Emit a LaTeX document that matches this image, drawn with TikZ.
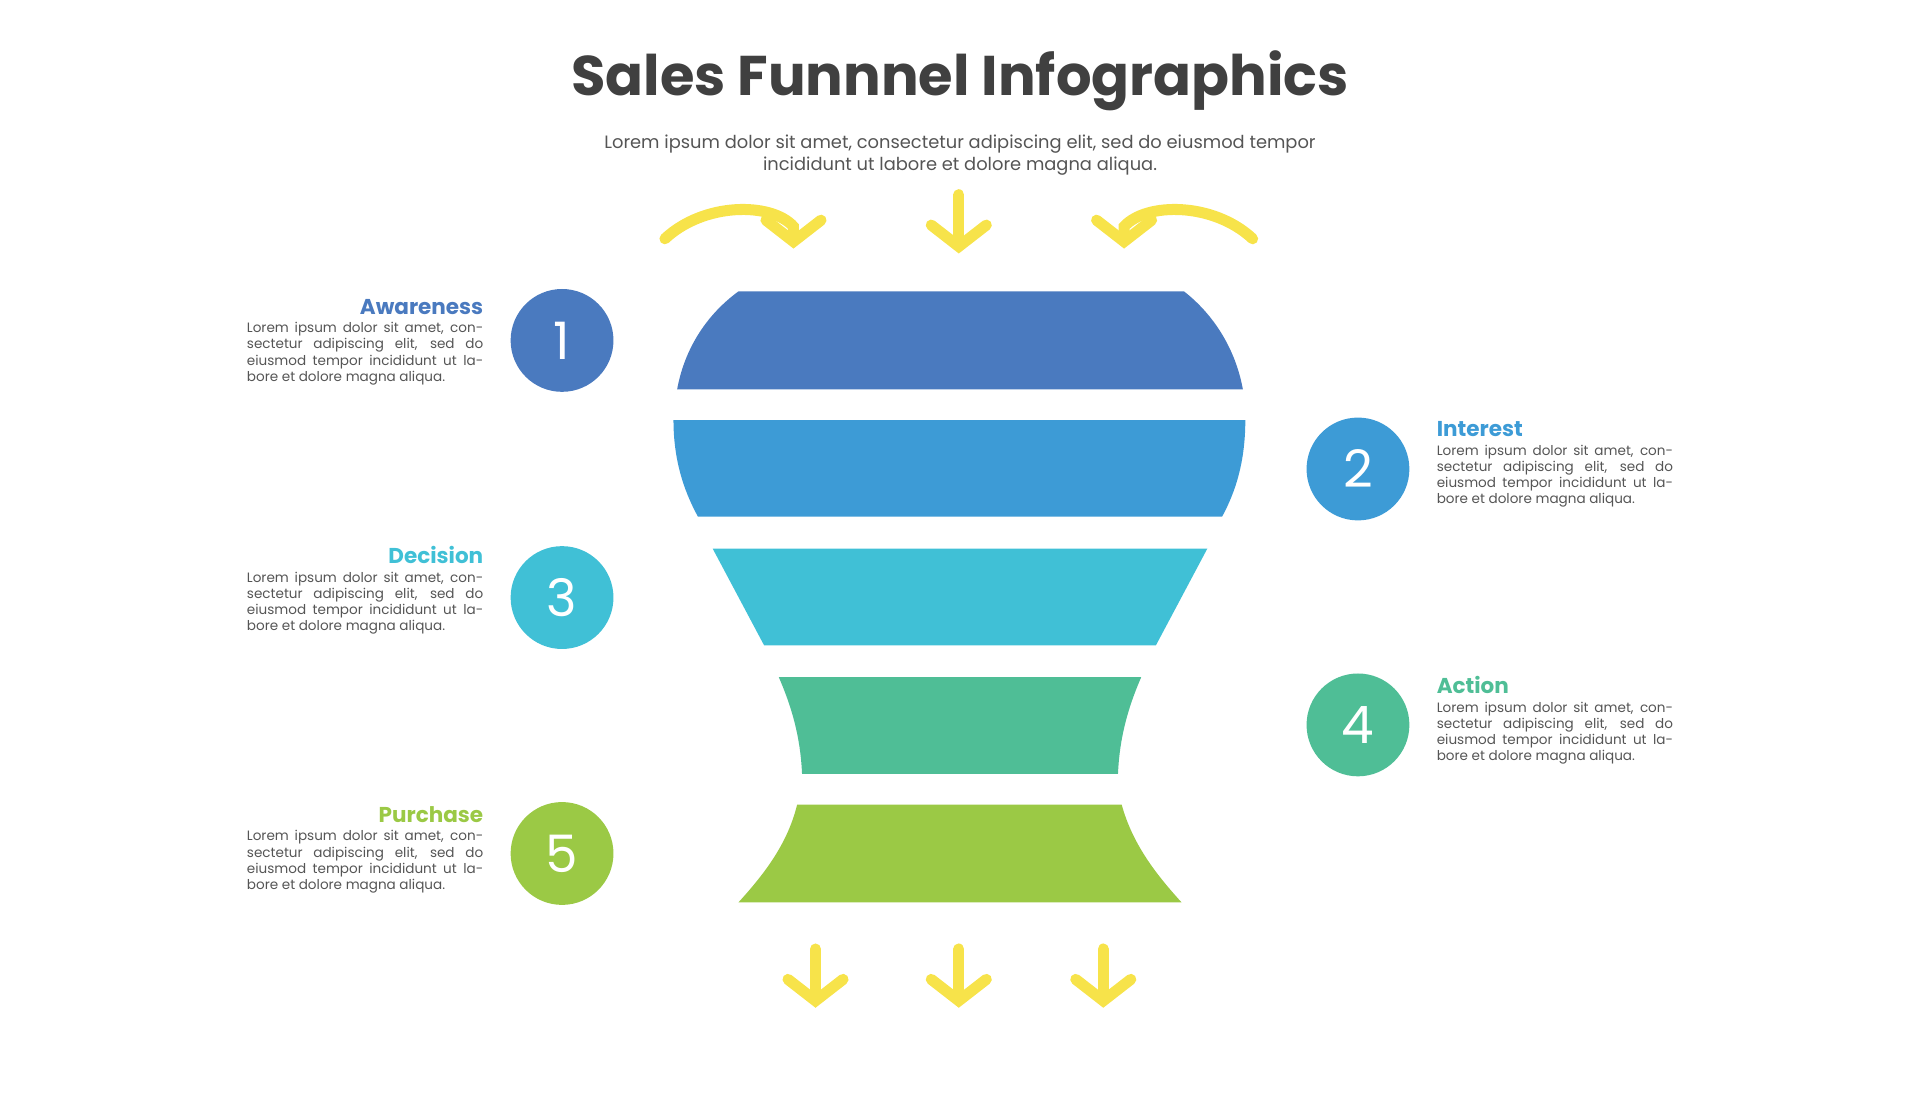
\documentclass[tikz,border=0pt]{standalone}
\usepackage{fontspec}
\setmainfont{Poppins}
\usetikzlibrary{arrows.meta, positioning}
\definecolor{cOne}{HTML}{4A7ABF}
\definecolor{cTwo}{HTML}{3D9BD6}
\definecolor{cThree}{HTML}{40C0D6}
\definecolor{cFour}{HTML}{4FBE96}
\definecolor{cFive}{HTML}{9BC945}
\definecolor{cArrow}{HTML}{F7E34A}
\definecolor{cText}{HTML}{555555}
\newcommand{\lorem}{Lorem ipsum dolor sit amet, consectetur adipiscing elit, sed do eiusmod tempor incididunt ut labore et dolore magna aliqua.}

\begin{document}
\begin{tikzpicture}[
        x=0.02cm, y=-0.02cm,
        numcirc/.style={circle, minimum size=1.68cm, inner sep=0pt, text=white, font=\fontsize{24}{24}\selectfont},
        headl/.style={anchor=south east, inner sep=0pt, font=\bfseries\fontsize{10}{10}\selectfont},
        headr/.style={anchor=south west, inner sep=0pt, font=\bfseries\fontsize{10}{10}\selectfont},
        bodyl/.style={anchor=north east, inner sep=0pt, text width=3.86cm, align=justify, text=cText, font=\fontsize{6.3}{7.5}\selectfont},
        bodyr/.style={anchor=north west, inner sep=0pt, text width=3.86cm, align=justify, text=cText, font=\fontsize{6.3}{7.5}\selectfont},
        flow/.style={draw=cArrow, line width=0.18cm, line cap=round, -{Straight Barb[length=0.35cm, width=0.9cm, line cap=round]}}
    ]
        \useasboundingbox (0,0) rectangle (1568,896);

        % Title
        \node (title) at (784,66) {\bfseries\fontsize{26}{26}\selectfont\color{black!75}Sales Funnnel Infographics};
        \node (sub) [below=0.15cm of title, align=center, text=cText, font=\fontsize{8.3}{10}\selectfont] {Lorem ipsum dolor sit amet, consectetur adipiscing elit, sed do eiusmod tempor\\incididunt ut labore et dolore magna aliqua.};

        % Funnel layers
        \fill[cOne] (603,238) -- (967,238) .. controls (995,260) and (1010,290) .. (1015,318) -- (553,318) .. controls (558,290) and (573,260) .. (603,238) -- cycle;
        \fill[cTwo] (550,343) -- (1017,343) .. controls (1017,375) and (1010,400) .. (998,422) -- (570,422) .. controls (558,400) and (550,375) .. (550,343) -- cycle;
        \fill[cThree] (582,448) -- (986,448) -- (944,527) -- (624,527) -- cycle;
        \fill[cFour] (636,553) -- (932,553) .. controls (918,585) and (914,610) .. (913,632) -- (655,632) .. controls (654,610) and (650,585) .. (636,553) -- cycle;
        \fill[cFive] (651,657) -- (916,657) .. controls (925,690) and (945,715) .. (965,737) -- (603,737) .. controls (623,715) and (643,690) .. (651,657) -- cycle;

        % Number circles
        \node (n1) [numcirc, fill=cOne] at (459,278) {1};
        \node (n2) [numcirc, fill=cTwo] at (1109,383) {2};
        \node (n3) [numcirc, fill=cThree] at (459,488) {3};
        \node (n4) [numcirc, fill=cFour] at (1109,592) {4};
        \node (n5) [numcirc, fill=cFive] at (459,697) {5};

        % Left texts
        \node (h1) [headl, text=cOne] at (395,257) {Awareness};
        \node (b1) [bodyl] at (395,263) {\lorem};
        \node (h3) [headl, text=cThree] at (395,461) {Decision};
        \node (b3) [bodyl] at (395,467) {\lorem};
        \node (h5) [headl, text=cFive] at (395,672) {Purchase};
        \node (b5) [bodyl] at (395,678) {\lorem};

        % Right texts
        \node (h2) [headr, text=cTwo] at (1173,357) {Interest};
        \node (b2) [bodyr] at (1173,363) {\lorem};
        \node (h4) [headr, text=cFour] at (1173,567) {Action};
        \node (b4) [bodyr] at (1173,573) {\lorem};

        % Arrows in
        \coordinate (inL0) at (543,195);
        \coordinate (inL1) at (648,203);
        \coordinate (inR0) at (1023,195);
        \coordinate (inR1) at (918,203);
        \coordinate (inM0) at (783,159);
        \coordinate (inM1) at (783,207);
        \draw[flow] (inL0) .. controls (575,165) and (630,165) .. (648,185) -- (inL1);
        \draw[flow] (inR0) .. controls (991,165) and (936,165) .. (918,185) -- (inR1);
        \draw[flow] (inM0) -- (inM1);

        % Arrows out
        \foreach \x [count=\i] in {666,783,901} {
            \coordinate (out\i a) at (\x,775);
            \coordinate (out\i b) at (\x,823);
            \draw[flow] (out\i a) -- (out\i b);
        }
    \end{tikzpicture}
\end{document}
